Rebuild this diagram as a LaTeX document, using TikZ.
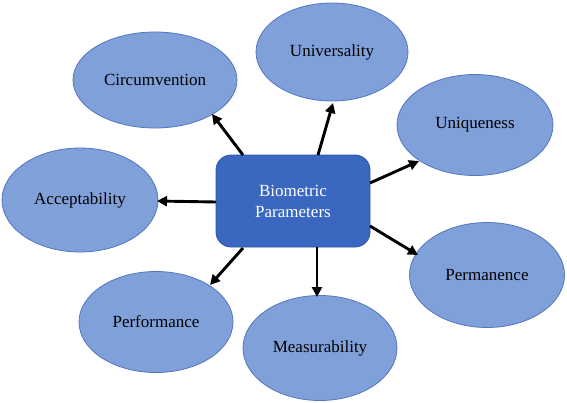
\documentclass[tikz,border=0pt]{standalone}
\usepackage{fontspec}
\setmainfont{Liberation Serif}
\usetikzlibrary{arrows.meta,shapes.geometric}
\definecolor{ellfill}{RGB}{128,160,217}
\definecolor{elldraw}{RGB}{84,118,190}
\definecolor{boxfill}{RGB}{58,103,191}
\definecolor{boxdraw}{RGB}{45,85,165}
\begin{document}
\begin{tikzpicture}[x=1pt,y=-1pt,
  param/.style={ellipse,draw=elldraw,line width=0.8pt,fill=ellfill,inner sep=0pt,
    font=\fontsize{17}{19}\selectfont,text=black},
  centerbox/.style={rectangle,rounded corners=15pt,draw=boxdraw,line width=0.8pt,fill=boxfill,
    minimum width=154pt,minimum height=92pt,text=white,align=center,
    font=\fontsize{17}{21}\selectfont},
  conn/.style={line width=2.9pt,-{Triangle[length=10pt,width=10pt]}}]
\useasboundingbox (0,0) rectangle (567,402);
\node[centerbox] (box) at (293,201) {Biometric\\Parameters};
\node[param,minimum width=164pt,minimum height=96pt] (circ) at (155,80) {Circumvention};
\node[param,minimum width=152pt,minimum height=98pt] (univ) at (332,52) {Universality};
\node[param,minimum width=156pt,minimum height=101pt] (uniq) at (475,125) {Uniqueness};
\node[param,minimum width=156pt,minimum height=104pt] (acc) at (80,200) {Acceptability};
\node[param,minimum width=155pt,minimum height=105pt] (perm) at (487,275) {Permanence};
\node[param,minimum width=154pt,minimum height=105pt] (meas) at (320,348) {Measurability};
\node[param,minimum width=154pt,minimum height=101pt] (perf) at (156,322) {Performance};
\coordinate (s1) at (243,155); \coordinate (t1) at (212,114);
\coordinate (s2) at (318,155); \coordinate (t2) at (333,103);
\coordinate (s3) at (370,183); \coordinate (t3) at (419,161);
\coordinate (s4) at (216,202); \coordinate (t4) at (157,201);
\coordinate (s5) at (370,226); \coordinate (t5) at (418,255);
\coordinate (s6) at (317,247); \coordinate (t6) at (317,297);
\coordinate (s7) at (243,248); \coordinate (t7) at (210,285);
\draw[conn] (s1) -- (t1);
\draw[conn] (s2) -- (t2);
\draw[conn] (s3) -- (t3);
\draw[conn] (s4) -- (t4);
\draw[conn] (s5) -- (t5);
\draw[conn] (s6) -- (t6);
\draw[conn] (s7) -- (t7);
\end{tikzpicture}
\end{document}
